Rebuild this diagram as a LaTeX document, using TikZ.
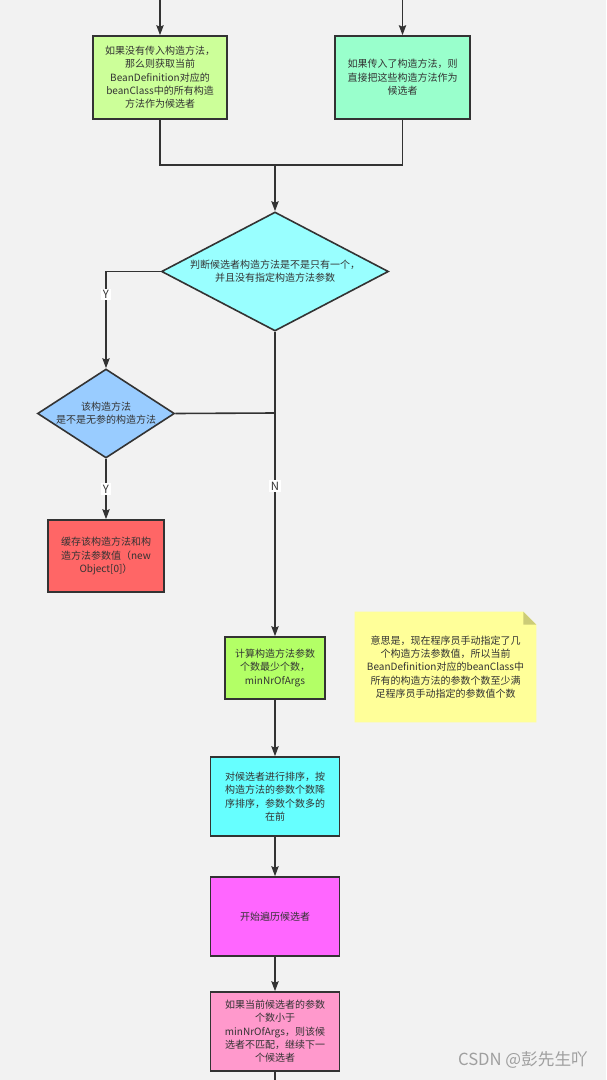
\documentclass[tikz,border=0pt]{standalone}
\usepackage{fontspec}
\setmainfont{Noto Sans CJK SC}
\usepackage{tikz}
\usetikzlibrary{arrows.meta,shapes.geometric,backgrounds}
\definecolor{pagebg}{HTML}{F2F2F2}
\definecolor{edgegray}{HTML}{333333}
\definecolor{limebox}{HTML}{CCFF99}
\definecolor{mintbox}{HTML}{99FFCC}
\definecolor{aquadia}{HTML}{99FFFF}
\definecolor{bluedia}{HTML}{99CCFF}
\definecolor{redbox}{HTML}{FF6666}
\definecolor{greenbox}{HTML}{B3FF66}
\definecolor{notebg}{HTML}{FFFF99}
\definecolor{notefold}{HTML}{CCCC77}
\definecolor{cyanbox}{HTML}{66FFFF}
\definecolor{pinkbox}{HTML}{FF66FF}
\definecolor{rosebox}{HTML}{FF99CC}

\begin{document}
\begin{tikzpicture}[x=0.75pt,y=-0.75pt,>={Stealth[length=7.5pt,width=5.5pt,inset=1.2pt]},
  every node/.style={text=edgegray,font=\fontsize{7.5}{10}\selectfont},
  box/.style={draw=edgegray,line width=1.2pt,align=center,inner sep=2pt},
  dia/.style={draw=edgegray,line width=1.2pt,align=center,shape=diamond,inner sep=0pt},
  flow/.style={draw=edgegray,line width=1.2pt},
  lab/.style={fill=white,inner sep=1.2pt,font=\fontsize{8.5}{9}\selectfont}]
\useasboundingbox (0,0) rectangle (606,1080);
\node[box,fill=limebox,minimum width=100.5pt,minimum height=62.25pt] (cand0) at (160,77.5) {如果没有传入构造方法，\\那么则获取当前\\BeanDefinition对应的\\beanClass中的所有构造\\方法作为候选者};
\node[box,fill=mintbox,minimum width=101.25pt,minimum height=62.25pt] (cand1) at (402.5,77.5) {如果传入了构造方法，则\\直接把这些构造方法作为\\候选者};
\node[dia,fill=aquadia,aspect=1.9,minimum width=170.25pt,minimum height=89.25pt] (chk) at (275,271.5) {判断候选者构造方法是不是只有一个，\\并且没有指定构造方法参数};
\node[dia,fill=bluedia,aspect=1.54,minimum width=102.75pt,minimum height=66.75pt] (noarg) at (106,413.5) {该构造方法\\是不是无参的构造方法};
\node[box,fill=redbox,minimum width=87pt,minimum height=54pt] (cache) at (106,556) {缓存该构造方法和构\\造方法参数值（new\\Object[0]）};
\node[box,fill=greenbox,minimum width=75pt,minimum height=46.5pt] (minarg) at (275,668) {计算构造方法参数\\个数最少个数，\\minNrOfArgs};
\node[align=center,minimum width=135.75pt,minimum height=82.5pt] (note) at (445.5,667) {意思是，现在程序员手动指定了几\\个构造方法参数值，所以当前\\BeanDefinition对应的beanClass中\\所有的构造方法的参数个数至少满\\足程序员手动指定的参数值个数};
\node[box,fill=cyanbox,minimum width=96.75pt,minimum height=59.25pt] (sort) at (275,796.5) {对候选者进行排序，按\\构造方法的参数个数降\\序排序，参数个数多的\\在前};
\node[box,fill=pinkbox,minimum width=96.75pt,minimum height=59.25pt] (loop) at (275,916.5) {开始遍历候选者};
\node[box,fill=rosebox,minimum width=96.75pt,minimum height=59.25pt] (skip) at (275,1031.5) {如果当前候选者的参数\\个数小于\\minNrOfArgs，则该候\\选者不匹配，继续下一\\个候选者};
\node[text=gray!75,font=\fontsize{12.5}{14}\selectfont] (mark) at (523,1060) {CSDN @彭先生吖};
% sticky note
\begin{scope}[on background layer]
\fill[pagebg] (0,0) rectangle (606,1080);
\fill[notebg] (note.south west) -- (note.north west) -- ([xshift=-9.75pt]note.north east) -- ([yshift=-9.75pt]note.north east) -- (note.south east) -- cycle;
\fill[notefold] ([xshift=-9.75pt]note.north east) -- ([yshift=-9.75pt]note.north east) -- ([xshift=-9.75pt,yshift=-9.75pt]note.north east) -- cycle;
\end{scope}
\coordinate (in0) at (160,0);
\coordinate (in1) at (402.5,0);
\coordinate (join) at (275,165);
\coordinate (merge) at (275,413);
\coordinate (out) at (275,1080);
\draw[flow,->] (in0) -- (cand0);
\draw[flow,->] (in1) -- (cand1);
\draw[flow] (cand0.south) |- (join);
\draw[flow] (cand1.south) |- (join);
\draw[flow,->] (join) -- (chk.north);
\draw[flow,->] (chk.west) -| node[lab,pos=0.62]{Y} (noarg.north);
\draw[flow,->] (noarg.south) -- node[lab]{Y} (cache.north);
\draw[flow] (noarg.east) -- (merge);
\draw[flow,->] (chk.south) -- node[lab,pos=0.507]{N} (minarg.north);
\draw[flow,->] (minarg) -- (sort);
\draw[flow,->] (sort) -- (loop);
\draw[flow,->] (loop) -- (skip);
\draw[flow] (skip) -- (out);
\end{tikzpicture}
\end{document}
